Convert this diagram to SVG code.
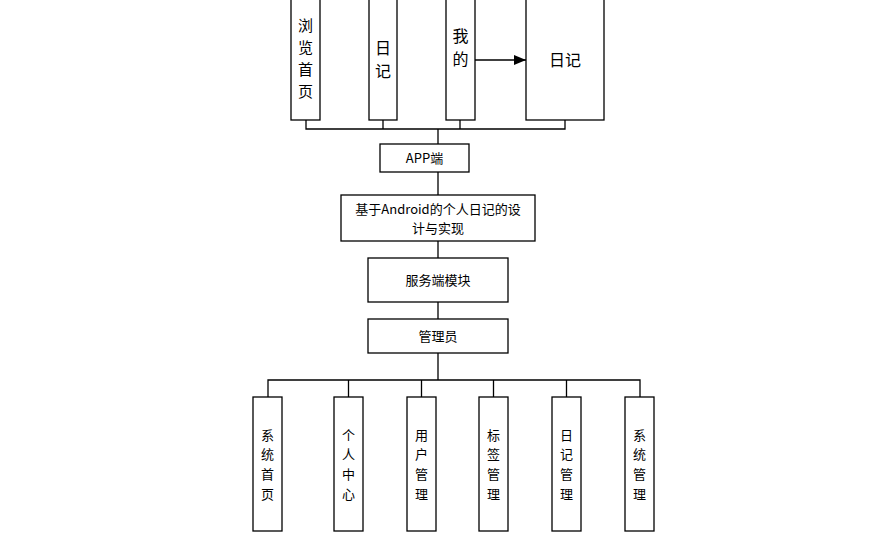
<svg xmlns="http://www.w3.org/2000/svg" width="888" height="545" viewBox="0 0 888 545">
<style>
rect{fill:#fff;stroke:#000;stroke-width:1.3}
.c line,.c path{stroke:#000;stroke-width:1.3;fill:none}
text{font-family:"Noto Sans CJK SC","Liberation Sans",sans-serif;fill:#000;text-anchor:middle}
.v{font-size:16px}
.w{font-size:15px}
.s{font-size:13px}
</style>
<defs><marker id="a" markerWidth="12" markerHeight="10" refX="12" refY="5" orient="auto" markerUnits="userSpaceOnUse"><path d="M0,0L12,5L0,10z" fill="#000"/></marker></defs>
<rect width="888" height="545" style="stroke:none"/>
<g class="c">
<path d="M306,120V129H565V120M383,120V129M460,120V129M438,129V144M438,172V195M438,241V258M438,302V319M438,353V380M268,397V380H640V397M348.5,380V397M421.5,380V397M493.5,380V397M566.5,380V397"/>
<line x1="475" y1="60" x2="526" y2="60" marker-end="url(#a)"/>
</g>
<g id="n1"><rect x="291" y="-2" width="29" height="122"/><text class="w" x="305.5" y="31">浏</text><text class="w" x="305.5" y="53">览</text><text class="w" x="305.5" y="75">首</text><text class="w" x="305.5" y="97">页</text></g>
<g id="n2"><rect x="369" y="-2" width="28" height="122"/><text class="v" x="383" y="54">日</text><text class="v" x="383" y="77">记</text></g>
<g id="n3"><rect x="446" y="-2" width="29" height="122"/><text class="v" x="460.5" y="42">我</text><text class="v" x="460.5" y="65">的</text></g>
<g id="n4"><rect x="526" y="-2" width="78" height="122"/><text class="v" x="565" y="66">日记</text></g>
<g id="app"><rect x="380" y="144" width="89" height="28"/><text class="s" x="424.5" y="163">APP端</text></g>
<g id="root"><rect x="341" y="195" width="194" height="46"/><text class="s" x="438" y="214">基于Android的个人日记的设</text><text class="s" x="438" y="233">计与实现</text></g>
<g id="srv"><rect x="368" y="258" width="140" height="44"/><text class="s" x="438" y="285">服务端模块</text></g>
<g id="adm"><rect x="368" y="319" width="140" height="34"/><text class="s" x="438" y="341">管理员</text></g>
<g id="b1"><rect x="253" y="397" width="29" height="134"/><text class="s" x="267.5" y="440">系</text><text class="s" x="267.5" y="459">统</text><text class="s" x="267.5" y="479">首</text><text class="s" x="267.5" y="499">页</text></g>
<g id="b2"><rect x="334" y="397" width="29" height="134"/><text class="s" x="348.5" y="440">个</text><text class="s" x="348.5" y="459">人</text><text class="s" x="348.5" y="479">中</text><text class="s" x="348.5" y="499">心</text></g>
<g id="b3"><rect x="407" y="397" width="29" height="134"/><text class="s" x="421.5" y="440">用</text><text class="s" x="421.5" y="459">户</text><text class="s" x="421.5" y="479">管</text><text class="s" x="421.5" y="499">理</text></g>
<g id="b4"><rect x="479" y="397" width="29" height="134"/><text class="s" x="493.5" y="440">标</text><text class="s" x="493.5" y="459">签</text><text class="s" x="493.5" y="479">管</text><text class="s" x="493.5" y="499">理</text></g>
<g id="b5"><rect x="552" y="397" width="29" height="134"/><text class="s" x="566.5" y="440">日</text><text class="s" x="566.5" y="459">记</text><text class="s" x="566.5" y="479">管</text><text class="s" x="566.5" y="499">理</text></g>
<g id="b6"><rect x="625" y="397" width="29" height="134"/><text class="s" x="639.5" y="440">系</text><text class="s" x="639.5" y="459">统</text><text class="s" x="639.5" y="479">管</text><text class="s" x="639.5" y="499">理</text></g>
</svg>
